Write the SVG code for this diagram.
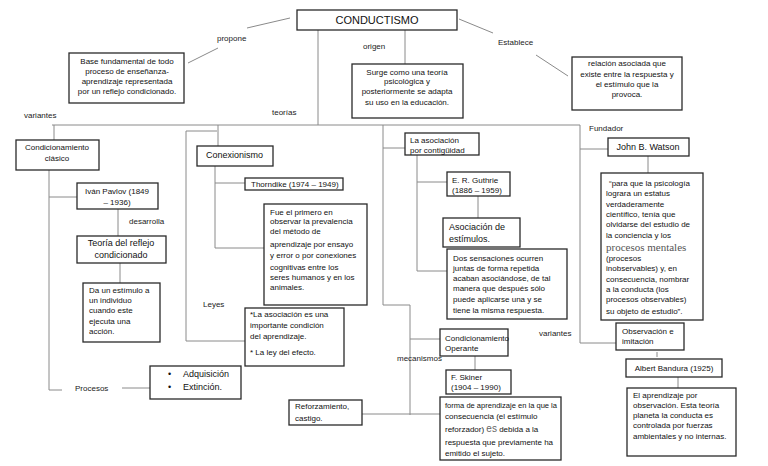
<svg xmlns="http://www.w3.org/2000/svg" width="768" height="466" viewBox="0 0 768 466">
<style>
.bx{fill:#fff;stroke:#2a2a2a;stroke-width:1.3}
.ln{stroke:#8a8a8a;stroke-width:1;fill:none}
.t{font-family:"Liberation Sans",Arial,sans-serif;font-size:8px;fill:#111}
.m{font-family:"Liberation Sans",Arial,sans-serif;font-size:9px;fill:#111}
.c{text-anchor:middle}
.lb{font-family:"Liberation Sans",Arial,sans-serif;font-size:8px;fill:#222}
</style>
<rect width="768" height="466" fill="#fff"/>
<g id="connectors">
<line class="ln" x1="290" y1="18" x2="247" y2="28"/>
<line class="ln" x1="218" y1="48" x2="188" y2="63"/>
<line class="ln" x1="318" y1="30" x2="318" y2="125"/>
<line class="ln" x1="405" y1="30" x2="405" y2="64"/>
<line class="ln" x1="459" y1="19" x2="493" y2="33"/>
<line class="ln" x1="536" y1="55" x2="568" y2="76"/>
<line class="ln" x1="52" y1="125" x2="580" y2="125"/>
<line class="ln" x1="54" y1="125" x2="54" y2="140"/>
<line class="ln" x1="218" y1="125" x2="218" y2="146"/>
<polyline class="ln" points="217,131 186,131 186,341 245,341"/>
<polyline class="ln" points="49,170 49,390 62,390"/>
<line class="ln" x1="49" y1="197" x2="77" y2="197"/>
<line class="ln" x1="122" y1="388" x2="150" y2="388"/>
<line class="ln" x1="118" y1="209" x2="118" y2="236"/>
<line class="ln" x1="120" y1="263" x2="120" y2="283"/>
<polyline class="ln" points="215,166 215,248 264,248"/>
<line class="ln" x1="215" y1="183" x2="245" y2="183"/>
<polyline class="ln" points="383,125 383,305 410,305 410,415"/>
<line class="ln" x1="383" y1="148" x2="405" y2="148"/>
<polyline class="ln" points="417,155 417,271 447,271"/>
<line class="ln" x1="417" y1="182" x2="447" y2="182"/>
<line class="ln" x1="478" y1="196" x2="478" y2="218"/>
<line class="ln" x1="410" y1="339" x2="440" y2="339"/>
<line class="ln" x1="362" y1="414" x2="440" y2="414"/>
<line class="ln" x1="475" y1="356" x2="475" y2="370"/>
<polyline class="ln" points="580,125 580,343 616,343"/>
<line class="ln" x1="580" y1="149" x2="608" y2="149"/>
<line class="ln" x1="648" y1="156" x2="648" y2="173"/>
<line class="ln" x1="657" y1="352" x2="657" y2="357" stroke="#bbb"/>
<line class="ln" x1="678" y1="377" x2="678" y2="388"/>
</g>
<g id="labels">
<text class="lb" x="217" y="41">propone</text>
<text class="lb" x="363" y="49">origen</text>
<text class="lb" x="498" y="45">Establece</text>
<text class="lb" x="272" y="115">teorías</text>
<text class="lb" x="24" y="118">variantes</text>
<text class="lb" x="589" y="131">Fundador</text>
<text class="lb" x="129" y="224">desarrolla</text>
<text class="lb" x="203" y="307">Leyes</text>
<text class="lb" x="75" y="391">Procesos</text>
<text class="lb" x="397" y="361">mecanismos</text>
<text class="lb" x="539" y="336">variantes</text>
</g>
<g id="n-conductismo">
<rect class="bx" x="297" y="10" width="160" height="20"/>
<text x="377" y="24" class="c" font-family="Liberation Sans,Arial,sans-serif" font-size="11" fill="#111">CONDUCTISMO</text>
</g>
<g id="n-base">
<rect class="bx" x="69" y="53" width="115" height="50"/>
<text class="t c" x="127" y="64">Base fundamental de todo</text>
<text class="t c" x="127" y="74">proceso de enseñanza-</text>
<text class="t c" x="127" y="84">aprendizaje representada</text>
<text class="t c" x="127" y="94">por un reflejo condicionado.</text>
</g>
<g id="n-surge">
<rect class="bx" x="352" y="64" width="111" height="54"/>
<text class="t c" x="407" y="75">Surge como una teoría</text>
<text class="t c" x="407" y="84">psicológica y</text>
<text class="t c" x="407" y="94">posteriormente se adapta</text>
<text class="t c" x="407" y="105">su uso en la educación.</text>
</g>
<g id="n-relacion">
<rect class="bx" x="572" y="57" width="110" height="53"/>
<text class="t c" x="627" y="66">relación asociada que</text>
<text class="t c" x="627" y="77">existe entre la respuesta y</text>
<text class="t c" x="627" y="87">el estímulo que la</text>
<text class="t c" x="627" y="97">provoca.</text>
</g>
<g id="n-clasico">
<rect class="bx" x="16" y="140" width="83" height="30"/>
<text class="t c" x="57" y="150">Condicionamiento</text>
<text class="t c" x="57" y="161">clásico</text>
</g>
<g id="n-pavlov">
<rect class="bx" x="77" y="183" width="81" height="26"/>
<text class="t c" x="117" y="194">Iván Pavlov (1849</text>
<text class="t c" x="117" y="205">– 1936)</text>
</g>
<g id="n-teoria">
<rect class="bx" x="77" y="236" width="89" height="27"/>
<text class="m c" x="121" y="246">Teoría del reflejo</text>
<text class="m c" x="121" y="258">condicionado</text>
</g>
<g id="n-estimulo">
<rect class="bx" x="83" y="283" width="77" height="59"/>
<text class="t" x="89" y="293">Da un estímulo a</text>
<text class="t" x="89" y="303">un individuo</text>
<text class="t" x="89" y="313">cuando este</text>
<text class="t" x="89" y="324">ejecuta una</text>
<text class="t" x="89" y="334">acción.</text>
</g>
<g id="n-conexionismo">
<rect class="bx" x="197" y="146" width="76" height="20"/>
<text class="m" x="206" y="158">Conexionismo</text>
</g>
<g id="n-thorndike">
<rect class="bx" x="245" y="178" width="98" height="12"/>
<text class="t" x="251" y="187">Thorndike (1974 – 1949)</text>
</g>
<g id="n-fue">
<rect class="bx" x="264" y="204" width="103" height="101"/>
<text class="t" x="270" y="215">Fue el primero en</text>
<text class="t" x="270" y="224">observar la prevalencia</text>
<text class="t" x="270" y="234">del método de</text>
<text class="t" x="270" y="247">aprendizaje por ensayo</text>
<text class="t" x="270" y="258">y error o por conexiones</text>
<text class="t" x="270" y="270">cognitivas entre los</text>
<text class="t" x="270" y="280">seres humanos y en los</text>
<text class="t" x="270" y="290">animales.</text>
</g>
<g id="n-leyes">
<rect class="bx" x="245" y="308" width="99" height="58"/>
<text class="t" x="250" y="317">*La asociación es una</text>
<text class="t" x="250" y="328">importante condición</text>
<text class="t" x="250" y="339">del aprendizaje.</text>
<text class="t" x="250" y="355">* La ley del efecto.</text>
</g>
<g id="n-procesos">
<rect class="bx" x="150" y="366" width="91" height="33"/>
<text class="m" x="168" y="377">•</text>
<text class="m" x="183" y="377">Adquisición</text>
<text class="m" x="168" y="390">•</text>
<text class="m" x="183" y="390">Extinción.</text>
</g>
<g id="n-reforzamiento">
<rect class="bx" x="289" y="400" width="73" height="25"/>
<text class="t" x="295" y="409">Reforzamiento,</text>
<text class="t" x="295" y="421">castigo.</text>
</g>
<g id="n-asociacion">
<rect class="bx" x="405" y="133" width="74" height="22"/>
<text class="t" x="410" y="143">La asociación</text>
<text class="t" x="410" y="153">por contigüidad</text>
</g>
<g id="n-guthrie">
<rect class="bx" x="447" y="172" width="63" height="24"/>
<text class="t" x="452" y="183">E. R. Guthrie</text>
<text class="t" x="452" y="193">(1886 – 1959)</text>
</g>
<g id="n-estimulos">
<rect class="bx" x="443" y="218" width="77" height="29"/>
<text class="m" x="449" y="230">Asociación de</text>
<text class="m" x="449" y="242">estímulos.</text>
</g>
<g id="n-dos">
<rect class="bx" x="447" y="249" width="120" height="70"/>
<text class="t" x="453" y="261" font-size="8.5">Dos sensaciones ocurren</text>
<text class="t" x="453" y="271" font-size="8.5">juntas de forma repetida</text>
<text class="t" x="453" y="281" font-size="8.5">acaban asociándose, de tal</text>
<text class="t" x="453" y="291" font-size="8.5">manera que después sólo</text>
<text class="t" x="453" y="302" font-size="8.5">puede aplicarse una y se</text>
<text class="t" x="453" y="313" font-size="8.5">tiene la misma respuesta.</text>
</g>
<g id="n-operante">
<rect class="bx" x="440" y="329" width="68" height="27"/>
<text class="t" x="445" y="341">Condicionamiento</text>
<text class="t" x="445" y="351">Operante</text>
</g>
<g id="n-skiner">
<rect class="bx" x="446" y="370" width="65" height="24"/>
<text class="t" x="451" y="380">F. Skiner</text>
<text class="t" x="451" y="390">(1904 – 1990)</text>
</g>
<g id="n-forma">
<rect class="bx" x="440" y="397" width="121" height="63"/>
<text class="t" x="445" y="408" textLength="112" lengthAdjust="spacingAndGlyphs">forma de aprendizaje en la que la</text>
<text class="t" x="445" y="419">consecuencia (el estímulo</text>
<text class="t" x="445" y="432">reforzador) <tspan font-size="10" fill="#666">es</tspan> debida a la</text>
<text class="t" x="445" y="445">respuesta que previamente ha</text>
<text class="t" x="445" y="456">emitido el sujeto.</text>
</g>
<g id="n-watson">
<rect class="bx" x="608" y="138" width="81" height="18"/>
<text class="m c" x="648" y="150">John B. Watson</text>
</g>
<g id="n-quote">
<rect class="bx" x="601" y="173" width="102" height="147"/>
<text class="t" x="609" y="186">“para que la psicología</text>
<text class="t" x="606" y="196">lograra un estatus</text>
<text class="t" x="606" y="207">verdaderamente</text>
<text class="t" x="606" y="217">científico, tenía que</text>
<text class="t" x="606" y="227">olvidarse del estudio de</text>
<text class="t" x="606" y="238">la conciencia y los</text>
<text x="606" y="251" font-family="Liberation Serif,Times New Roman,serif" font-size="11" fill="#555">procesos mentales</text>
<text class="t" x="606" y="261">(procesos</text>
<text class="t" x="606" y="271">inobservables) y, en</text>
<text class="t" x="606" y="282">consecuencia, nombrar</text>
<text class="t" x="606" y="292">a la conducta (los</text>
<text class="t" x="606" y="302">procesos observables)</text>
<text class="t" x="606" y="314">su objeto de estudio”.</text>
</g>
<g id="n-observacion">
<rect class="bx" x="616" y="323" width="68" height="27"/>
<text class="t" x="622" y="334">Observación e</text>
<text class="t" x="622" y="344">imitación</text>
</g>
<g id="n-bandura">
<rect class="bx" x="626" y="359" width="96" height="18"/>
<text class="t c" x="674" y="371">Albert Bandura (1925)</text>
</g>
<g id="n-aprendizaje">
<rect class="bx" x="627" y="388" width="109" height="68"/>
<text class="t" x="633" y="398">El aprendizaje por</text>
<text class="t" x="633" y="408">observación. Esta teoría</text>
<text class="t" x="633" y="418">planeta la conducta es</text>
<text class="t" x="633" y="428">controlada por fuerzas</text>
<text class="t" x="633" y="439">ambientales y no internas.</text>
</g>
</svg>
